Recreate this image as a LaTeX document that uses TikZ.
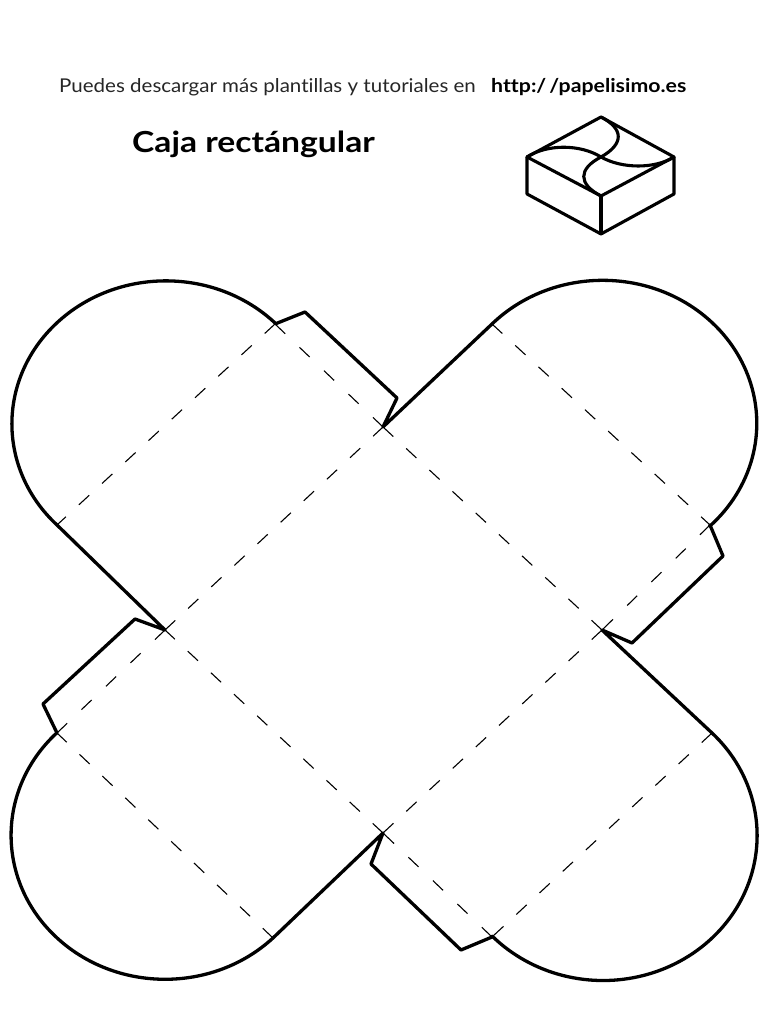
\documentclass[tikz,border=0pt]{standalone}
\usepackage{fontspec}
\setmainfont[FakeStretch=1.08, Ligatures=NoCommon]{Lato}
\newfontfamily\linkfont[FakeStretch=1.12, Ligatures=NoCommon]{Lato Bold}
\newfontfamily\titlefont[FakeStretch=1.16]{Lato Bold}
\usepackage{tikz}
\tikzset{
    cutline/.style={line width=3.3pt, line join=round},
    iconline/.style={line width=3.1pt, line join=round},
    foldline/.style={line width=1.1pt, dash pattern=on 14pt off 17.6pt},
    tabfold/.style={line width=1.1pt, dash pattern=on 14pt off 19.85pt},
    plaintext/.style={anchor=base west, inner sep=0pt, text=black!85},
    boldtext/.style={anchor=base west, inner sep=0pt}
}
\begin{document}
\begin{tikzpicture}[x=1pt, y=1pt]
    \useasboundingbox (0, 0) rectangle (768, 1024);

    \node[plaintext] (intro) at (59, 931) {\fontsize{19}{22}\selectfont Puedes descargar más plantillas y tutoriales en};
    \node[boldtext] (link) at (491, 931) {\linkfont\fontsize{19}{22}\selectfont http:/\kern3pt/papelisimo.es};
    \node[boldtext] (title) at (132, 871) {\titlefont\fontsize{29}{34}\selectfont Caja rectángular};

    \coordinate (icontop) at (601, 907);
    \coordinate (iconleft) at (527, 867);
    \coordinate (iconright) at (674, 867);
    \coordinate (iconmid) at (601, 828);
    \coordinate (iconcentre) at (601, 867);
    \coordinate (iconbl) at (527, 830);
    \coordinate (iconbot) at (601, 790);
    \coordinate (iconbr) at (674, 830);
    \draw[iconline] (icontop) -- (iconright) -- (iconmid) -- (iconleft) -- cycle;
    \draw[iconline] (iconleft) -- (iconbl) -- (iconbot) -- (iconbr) -- (iconright);
    \draw[iconline] (iconmid) -- (iconbot);
    \draw[iconline] (iconleft) .. controls (547, 880) and (580, 880) .. (iconcentre)
        .. controls (622, 855) and (655, 855) .. (iconright);
    \draw[iconline] (icontop) .. controls (624, 895) and (624, 880) .. (iconcentre)
        .. controls (578, 855) and (578, 840) .. (iconmid);

    \coordinate (T) at (383, 597);
    \coordinate (R) at (602, 394);
    \coordinate (B) at (383, 191);
    \coordinate (L) at (165, 394);
    \coordinate (lobeA) at (275, 700);
    \coordinate (lobeAend) at (57, 499);
    \coordinate (lobeB) at (492, 700);
    \coordinate (lobeBend) at (710, 499);
    \coordinate (lobeC) at (712, 291);
    \coordinate (lobeCend) at (492, 87);
    \coordinate (lobeD) at (273, 86);
    \coordinate (lobeDend) at (57, 291);

    \draw[foldline] (T) -- (R);
    \draw[foldline] (R) -- (B);
    \draw[foldline] (B) -- (L);
    \draw[foldline] (L) -- (T);
    \draw[foldline] (lobeA) -- (lobeAend);
    \draw[foldline] (lobeB) -- (lobeBend);
    \draw[foldline] (lobeC) -- (lobeCend);
    \draw[foldline] (lobeD) -- (lobeDend);
    \draw[tabfold] (lobeA) -- (T);
    \draw[tabfold] (lobeBend) -- (R);
    \draw[tabfold] (lobeCend) -- (B);
    \draw[tabfold] (lobeDend) -- (L);

    \draw[cutline] (lobeA) -- (305, 712) -- (397, 626) -- (T) -- (lobeB)
        arc[start angle=136, end angle=-46, x radius=154pt, y radius=143pt] -- (lobeBend)
        -- (723, 468) -- (632, 381) -- (R) -- (lobeC)
        arc[start angle=45, end angle=-136, x radius=154pt, y radius=145pt] -- (lobeCend)
        -- (461, 74) -- (371, 160) -- (B) -- (lobeD)
        arc[start angle=-45.5, end angle=-225, x radius=154pt, y radius=144pt] -- (lobeDend)
        -- (43, 320) -- (135, 405) -- (L) -- (lobeAend)
        arc[start angle=225, end angle=45, x radius=154pt, y radius=143pt] -- (lobeA);
\end{tikzpicture}
\end{document}
